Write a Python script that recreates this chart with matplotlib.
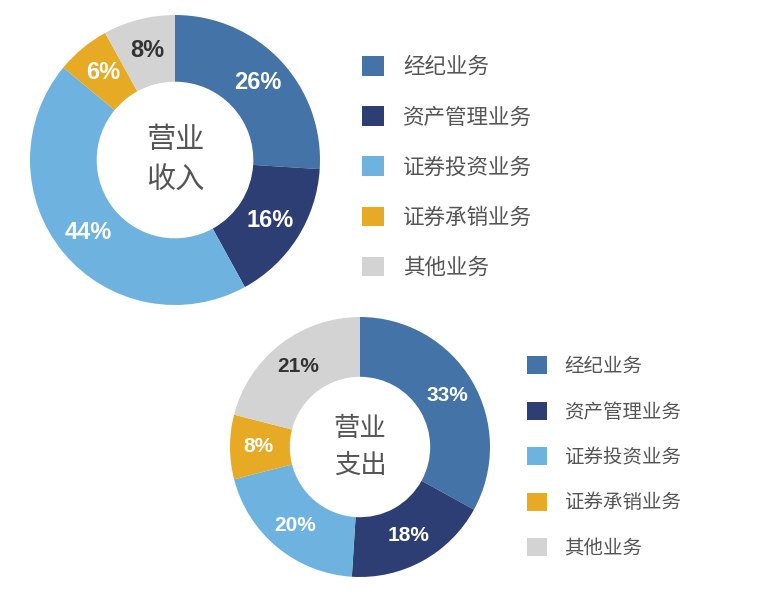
import numpy as np
import matplotlib.pyplot as plt

plt.rcParams['font.family'] = ['Noto Sans CJK SC', 'DejaVu Sans']

categories = ['经纪业务', '资产管理业务', '证券投资业务', '证券承销业务', '其他业务']
income = [26, 16, 44, 6, 8]
expense = [33, 18, 20, 8, 21]
colors = ['#4473A8', '#2D3E75', '#6EB3E0', '#E6AA24', '#D3D3D3']

W, H = 781, 612
fig = plt.figure(figsize=(W / 100, H / 100), dpi=100)


def px_axes(cx, cy, r):
    # axes box in pixel coords, centre (cx, cy) from top-left
    return fig.add_axes([(cx - r) / W, (H - cy - r) / H, 2 * r / W, 2 * r / H])


def donut(ax, values, center_text, pct_size, center_size):
    wedges, _, autotexts = ax.pie(
        values, colors=colors, startangle=90, counterclock=False,
        radius=1, wedgeprops=dict(width=0.46, edgecolor='none'),
        autopct='%d%%', pctdistance=0.78,
        textprops=dict(family='Liberation Sans', fontweight='bold',
                       fontsize=pct_size, color='white'))
    autotexts[-1].set_color('#333333')
    ax.text(0, 0, center_text, ha='center', va='center', fontsize=center_size,
            color='#555555', fontweight='light', linespacing=1.45)
    ax.set_xlim(-1, 1)
    ax.set_ylim(-1, 1)
    ax.set_aspect('equal')
    ax.axis('off')
    return wedges


ax1 = px_axes(175, 160, 145)
w1 = donut(ax1, income, '营业\n收入', 17, 21)
ax1.legend(w1, categories, loc='upper left', bbox_to_anchor=(362 / W, 1 - 56 / H),
           bbox_transform=fig.transFigure, frameon=False, fontsize=15.5,
           handlelength=1.03, handleheight=1.03, handletextpad=0.88,
           labelspacing=1.3, labelcolor='#555555', borderpad=0, borderaxespad=0)

ax2 = px_axes(360, 447, 130)
w2 = donut(ax2, expense, '营业\n支出', 15, 19)
ax2.legend(w2, categories, loc='upper left', bbox_to_anchor=(527 / W, 1 - 356 / H),
           bbox_transform=fig.transFigure, frameon=False, fontsize=14,
           handlelength=1.03, handleheight=1.03, handletextpad=0.88,
           labelspacing=1.26, labelcolor='#555555', borderpad=0, borderaxespad=0)

fig.savefig('out.png', dpi=100)
